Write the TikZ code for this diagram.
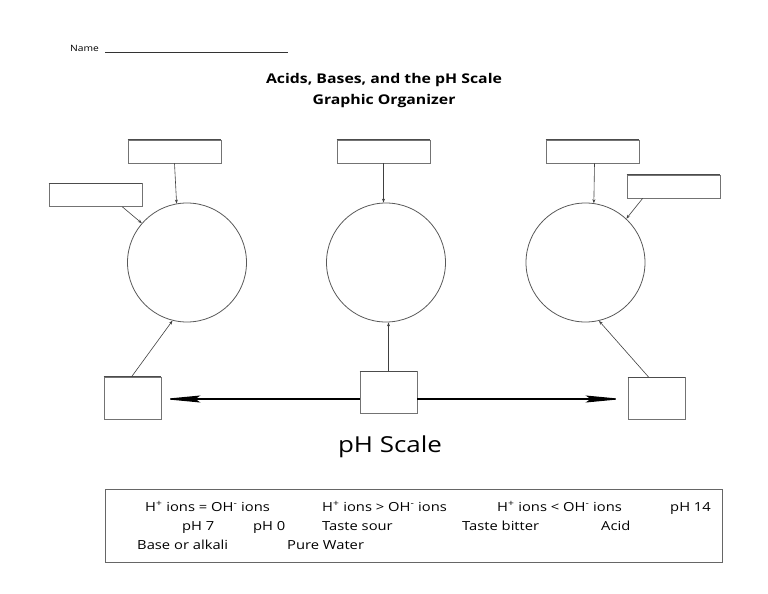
\documentclass[tikz,border=0pt]{standalone}
\usepackage{fontspec}
\setmainfont{Open Sans}[FakeStretch=1.18]
\usetikzlibrary{arrows.meta,calc}
\tikzset{
  blank/.style={draw=black!55, line width=0.7pt, fill=white, inner sep=0pt, minimum width=93pt, minimum height=23pt},
  smallbox/.style={draw=black!55, line width=0.7pt, fill=white, inner sep=0pt, minimum width=57pt, minimum height=42pt},
  bubble/.style={circle, draw=black!65, line width=0.8pt, inner sep=0pt, minimum size=119pt},
  feed/.style={draw=black!75, line width=0.6pt, -{Stealth[length=4pt,width=3pt]}},
  scalearrow/.style={draw=black, line width=1.3pt, -{Stealth[length=37pt,width=7pt,inset=5pt]}},
  tx/.style={anchor=base west, inner sep=0pt, font=\fontsize{12.5}{15}\selectfont},
  titletx/.style={anchor=base, inner sep=0pt, font=\bfseries\fontsize{13.4}{17}\selectfont}
}
\begin{document}
\begin{tikzpicture}[x=1pt,y=-1pt]
\useasboundingbox (0,0) rectangle (768,594);

% Name line
\node[anchor=base west, inner sep=0pt, font=\fontsize{8.7}{11}\selectfont] (name) at (70,52) {Name};
\draw[line width=0.7pt, black!80] ([xshift=6pt]name.base east) -- ++(183,0);

% Title
\node[titletx] (t1) at (384,83) {Acids, Bases, and the pH Scale};
\node[titletx] (t2) at (384,104) {Graphic Organizer};

% Circles
\node[bubble] (c1) at (187,262.5) {};
\node[bubble] (c2) at (386,262.5) {};
\node[bubble] (c3) at (585.5,262.5) {};

% Top blanks
\node[blank] (tl) at (174.5,151.5) {};
\node[blank] (tm) at (383.5,151.5) {};
\node[blank] (tr) at (592.5,151.5) {};
\node[blank] (sl) at (95.5,195) {};
\node[blank] (sr) at (673.5,186.5) {};

% Bottom boxes
\node[smallbox] (bl) at (132.5,398) {};
\node[smallbox] (bm) at (388.5,392.5) {};
\node[smallbox] (br) at (656.5,398.5) {};

% darker top edges
\foreach \b in {tl,tm,tr,sl,sr,bl,bm,br}
  \draw[line width=1.1pt, black!70] (\b.north west) -- (\b.north east);

% Feed arrows
\draw[feed] (tl.south) -- (c1.100);
\draw[feed] ([xshift=-20pt]sl.south east) -- (c1.139);
\draw[feed] ([xshift=28pt]bl.north west) -- (c1.256);

\draw[feed] (tm.south) -- (tm.south |- c2.north);
\draw[feed] (bm.north) -- (bm.north |- c2.south);

\draw[feed] ([xshift=2pt]tr.south) -- (c3.82);
\draw[feed] ([xshift=16pt]sr.south west) -- (c3.47);
\draw[feed] ([xshift=21pt]br.north west) -- (c3.283);

% pH scale arrows
\draw[scalearrow, shorten >=2pt] ([yshift=-6.5pt]bm.west) -- ([yshift=-6.5pt]bm.west -| bl.east);
\draw[scalearrow, shorten >=5pt] ([yshift=-6.5pt]bm.east) -- ([yshift=-6.5pt]bm.east -| br.west);

\node[anchor=base, inner sep=0pt, font=\fontsize{22}{24}\selectfont] (scale) at (390,452) {pH Scale};

% Word bank
\node[draw=black!60, line width=0.7pt, inner sep=0pt, minimum width=617pt, minimum height=73pt] (bank) at (413.5,525.5) {};

\node[tx] (w1) at (145,511) {H\textsuperscript{+} ions = OH\textsuperscript{-} ions};
\node[tx] (w2) at (322,511) {H\textsuperscript{+} ions > OH\textsuperscript{-} ions};
\node[tx] (w3) at (497,511) {H\textsuperscript{+} ions < OH\textsuperscript{-} ions};
\node[tx] (w4) at (670,511) {pH 14};
\node[tx] (w5) at (182,530) {pH 7};
\node[tx] (w6) at (253,530) {pH 0};
\node[tx] (w7) at (322,530) {Taste sour};
\node[tx] (w8) at (462,530) {Taste bitter};
\node[tx] (w9) at (601,530) {Acid};
\node[tx] (w10) at (137,549) {Base or alkali};
\node[tx] (w11) at (287,549) {Pure Water};
\end{tikzpicture}
\end{document}
